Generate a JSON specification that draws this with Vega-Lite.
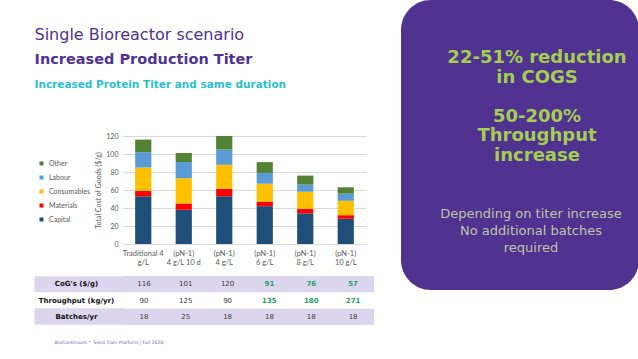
{
  "$schema": "https://vega.github.io/schema/vega-lite/v6.json",
  "background": "white",
  "padding": {"left": 25, "top": 0, "right": 0, "bottom": 0},
  "config": {"view": {"stroke": null}, "font": "DejaVu Sans"},
  "title": {"text": "BioContinuum™ Seed Train Platform | Fall 2020", "orient": "bottom", "anchor": "start", "dx": 29, "fontSize": 4.6, "fontWeight": "normal", "color": "#7a6aa8", "offset": 15, "font": "DejaVu Sans"},
  "datasets": {
    "titles": [
      {"title": "Single Bioreactor scenario"},
      {"title": "Increased Production Titer"},
      {"title": "Increased Protein Titer and same duration"}
    ],
    "costs": [
      {"scenario": "Traditional 4|g/L", "component": "Capital", "cost": 53, "rank": 1},
      {"scenario": "Traditional 4|g/L", "component": "Materials", "cost": 6, "rank": 2},
      {"scenario": "Traditional 4|g/L", "component": "Consumables", "cost": 26, "rank": 3},
      {"scenario": "Traditional 4|g/L", "component": "Labour", "cost": 17, "rank": 4},
      {"scenario": "Traditional 4|g/L", "component": "Other", "cost": 14, "rank": 5},
      {"scenario": "(pN-1)|4 g/L 10 d", "component": "Capital", "cost": 38, "rank": 1},
      {"scenario": "(pN-1)|4 g/L 10 d", "component": "Materials", "cost": 7, "rank": 2},
      {"scenario": "(pN-1)|4 g/L 10 d", "component": "Consumables", "cost": 28, "rank": 3},
      {"scenario": "(pN-1)|4 g/L 10 d", "component": "Labour", "cost": 18, "rank": 4},
      {"scenario": "(pN-1)|4 g/L 10 d", "component": "Other", "cost": 10, "rank": 5},
      {"scenario": "(pN-1)|4 g/L", "component": "Capital", "cost": 53, "rank": 1},
      {"scenario": "(pN-1)|4 g/L", "component": "Materials", "cost": 8, "rank": 2},
      {"scenario": "(pN-1)|4 g/L", "component": "Consumables", "cost": 27, "rank": 3},
      {"scenario": "(pN-1)|4 g/L", "component": "Labour", "cost": 17, "rank": 4},
      {"scenario": "(pN-1)|4 g/L", "component": "Other", "cost": 15, "rank": 5},
      {"scenario": "(pN-1)|6 g/L", "component": "Capital", "cost": 42, "rank": 1},
      {"scenario": "(pN-1)|6 g/L", "component": "Materials", "cost": 5, "rank": 2},
      {"scenario": "(pN-1)|6 g/L", "component": "Consumables", "cost": 20, "rank": 3},
      {"scenario": "(pN-1)|6 g/L", "component": "Labour", "cost": 12, "rank": 4},
      {"scenario": "(pN-1)|6 g/L", "component": "Other", "cost": 12, "rank": 5},
      {"scenario": "(pN-1)|8 g/L", "component": "Capital", "cost": 34, "rank": 1},
      {"scenario": "(pN-1)|8 g/L", "component": "Materials", "cost": 5, "rank": 2},
      {"scenario": "(pN-1)|8 g/L", "component": "Consumables", "cost": 19, "rank": 3},
      {"scenario": "(pN-1)|8 g/L", "component": "Labour", "cost": 8, "rank": 4},
      {"scenario": "(pN-1)|8 g/L", "component": "Other", "cost": 10, "rank": 5},
      {"scenario": "(pN-1)|10 g/L", "component": "Capital", "cost": 28, "rank": 1},
      {"scenario": "(pN-1)|10 g/L", "component": "Materials", "cost": 4, "rank": 2},
      {"scenario": "(pN-1)|10 g/L", "component": "Consumables", "cost": 16, "rank": 3},
      {"scenario": "(pN-1)|10 g/L", "component": "Labour", "cost": 8, "rank": 4},
      {"scenario": "(pN-1)|10 g/L", "component": "Other", "cost": 7, "rank": 5}
    ],
    "table": [
      {"metric": "CoG's ($/g)", "scenario": "Traditional 4|g/L", "value": 116},
      {"metric": "CoG's ($/g)", "scenario": "(pN-1)|4 g/L 10 d", "value": 101},
      {"metric": "CoG's ($/g)", "scenario": "(pN-1)|4 g/L", "value": 120},
      {"metric": "CoG's ($/g)", "scenario": "(pN-1)|6 g/L", "value": 91},
      {"metric": "CoG's ($/g)", "scenario": "(pN-1)|8 g/L", "value": 76},
      {"metric": "CoG's ($/g)", "scenario": "(pN-1)|10 g/L", "value": 57},
      {"metric": "Throughput (kg/yr)", "scenario": "Traditional 4|g/L", "value": 90},
      {"metric": "Throughput (kg/yr)", "scenario": "(pN-1)|4 g/L 10 d", "value": 125},
      {"metric": "Throughput (kg/yr)", "scenario": "(pN-1)|4 g/L", "value": 90},
      {"metric": "Throughput (kg/yr)", "scenario": "(pN-1)|6 g/L", "value": 135},
      {"metric": "Throughput (kg/yr)", "scenario": "(pN-1)|8 g/L", "value": 180},
      {"metric": "Throughput (kg/yr)", "scenario": "(pN-1)|10 g/L", "value": 271},
      {"metric": "Batches/yr", "scenario": "Traditional 4|g/L", "value": 18},
      {"metric": "Batches/yr", "scenario": "(pN-1)|4 g/L 10 d", "value": 25},
      {"metric": "Batches/yr", "scenario": "(pN-1)|4 g/L", "value": 18},
      {"metric": "Batches/yr", "scenario": "(pN-1)|6 g/L", "value": 18},
      {"metric": "Batches/yr", "scenario": "(pN-1)|8 g/L", "value": 18},
      {"metric": "Batches/yr", "scenario": "(pN-1)|10 g/L", "value": 18}
    ],
    "heads": [
      {"line": 1, "text": "22-51% reduction"},
      {"line": 2, "text": "in COGS"},
      {"line": 4, "text": "50-200%"},
      {"line": 5, "text": "Throughput"},
      {"line": 6, "text": "increase"}
    ],
    "body": [
      {"line": 9, "text": "Depending on titer increase\nNo additional batches\nrequired"}
    ]
  },
  "columns": 2,
  "spacing": 27,
  "concat": [
    {
      "columns": 1,
      "spacing": 9,
      "resolve": {"legend": {"color": "independent"}, "scale": {"color": "independent"}},
      "concat": [
        {
          "width": 243,
          "height": 123,
          "data": {"name": "titles"},
          "mark": {"type": "text", "text": ""},
          "encoding": {
            "y": {
              "field": "title", "type": "nominal", "sort": null,
              "scale": {"type": "point", "padding": 0, "range": [34, 84]},
              "axis": {
                "title": null, "domain": false, "ticks": false, "grid": false,
                "labelAlign": "left", "labelBaseline": "middle", "labelPadding": 89, "labelLimit": 0,
                "labelFont": "DejaVu Sans",
                "labelFontSize": {"condition": [{"test": "datum.value == 'Single Bioreactor scenario'", "value": 16}, {"test": "datum.value == 'Increased Production Titer'", "value": 14.5}], "value": 10.5},
                "labelFontWeight": {"condition": {"test": "datum.value == 'Single Bioreactor scenario'", "value": "normal"}, "value": "bold"},
                "labelColor": {"condition": {"test": "datum.value == 'Increased Protein Titer and same duration'", "value": "#2dbecd"}, "value": "#503291"}
              }
            }
          }
        },
        {
          "width": 243,
          "height": 108,
          "data": {"name": "costs"},
          "mark": {"type": "bar"},
          "encoding": {
            "x": {
              "field": "scenario", "type": "nominal", "sort": null,
              "scale": {"paddingInner": 0.6, "paddingOuter": 0.3},
              "axis": {"title": null, "labelAngle": 0, "labelExpr": "split(datum.label, '|')", "ticks": false, "domainColor": "#d9d9d9", "labelFont": "Lato", "labelFontSize": 7.5, "labelColor": "#595959", "labelPadding": 5, "labelLineHeight": 9}
            },
            "y": {
              "field": "cost", "type": "quantitative",
              "scale": {"domain": [0, 120]},
              "axis": {"values": [0, 20, 40, 60, 80, 100, 120], "title": "Total Cost of Goods ($/g)", "domain": false, "ticks": false, "gridColor": "#d9d9d9", "labelFont": "Lato", "labelFontSize": 7, "labelColor": "#595959", "labelPadding": 5, "titleFont": "Lato", "titleFontSize": 7, "titleColor": "#595959", "titleFontWeight": "normal", "titlePadding": 4}
            },
            "color": {
              "field": "component", "type": "nominal",
              "scale": {"domain": ["Other", "Labour", "Consumables", "Materials", "Capital"], "range": ["#548235", "#5b9bd5", "#ffc000", "#ff0000", "#1f4e79"]},
              "legend": {"title": " ", "titleFontSize": 8, "titlePadding": 12, "orient": "left", "offset": 0, "symbolType": "square", "symbolSize": 16, "symbolStrokeWidth": 0, "labelFont": "Lato", "labelFontSize": 7, "labelColor": "#595959", "rowPadding": 6, "padding": 4, "labelOffset": 4}
            },
            "order": {"field": "rank", "type": "quantitative"}
          }
        },
        {
          "width": 251,
          "height": 49,
          "layer": [
            {
              "data": {"values": [{"metric": "CoG's ($/g)"}, {"metric": "Batches/yr"}]},
              "mark": {"type": "rect", "color": "#dcd5ee"},
              "encoding": {
                "y": {
                  "field": "metric", "type": "nominal",
                  "scale": {"domain": ["CoG's ($/g)", "Throughput (kg/yr)", "Batches/yr"], "paddingInner": 0, "paddingOuter": 0},
                  "axis": {
                    "title": null, "domain": false, "grid": false,
                    "ticks": true, "tickSize": 89, "tickWidth": 16.4, "tickCap": "butt",
                    "tickColor": {"condition": {"test": "datum.value == 'Throughput (kg/yr)'", "value": "#ffffff"}, "value": "#dcd5ee"},
                    "labelAlign": "center", "labelPadding": -42, "labelFont": "DejaVu Sans", "labelFontSize": 7, "labelFontWeight": "bold", "labelColor": "#111111", "labelLimit": 0
                  }
                }
              }
            },
            {
              "data": {"name": "table"},
              "transform": [{"filter": "!(indexof(['(pN-1)|6 g/L','(pN-1)|8 g/L','(pN-1)|10 g/L'], datum.scenario) >= 0 && datum.metric != 'Batches/yr')"}],
              "mark": {"type": "text", "fontSize": 7, "color": "#404040"},
              "encoding": {
                "x": {"field": "scenario", "type": "nominal", "sort": null, "scale": {"domain": ["Traditional 4|g/L", "(pN-1)|4 g/L 10 d", "(pN-1)|4 g/L", "(pN-1)|6 g/L", "(pN-1)|8 g/L", "(pN-1)|10 g/L"], "paddingInner": 0, "paddingOuter": 0}, "axis": null},
                "y": {"field": "metric", "type": "nominal"},
                "text": {"field": "value"}
              }
            },
            {
              "data": {"name": "table"},
              "transform": [{"filter": "indexof(['(pN-1)|6 g/L','(pN-1)|8 g/L','(pN-1)|10 g/L'], datum.scenario) >= 0 && datum.metric != 'Batches/yr'"}],
              "mark": {"type": "text", "fontSize": 7, "fontWeight": "bold", "color": "#25a06c"},
              "encoding": {
                "x": {"field": "scenario", "type": "nominal", "axis": null},
                "y": {"field": "metric", "type": "nominal"},
                "text": {"field": "value"}
              }
            }
          ]
        }
      ]
    },
    {
      "width": 238,
      "height": 290,
      "view": {"fill": "#503291", "stroke": null, "cornerRadius": 30},
      "layer": [
        {
          "data": {"name": "heads"},
          "mark": {"type": "text", "font": "DejaVu Sans", "fontWeight": "bold", "fontSize": 18, "color": "#a5cd50", "dx": 17},
          "encoding": {
            "y": {"field": "line", "type": "ordinal", "scale": {"type": "point", "domain": [1, 2, 3, 4, 5, 6, 7, 8, 9, 10, 11], "padding": 0, "range": [58, 253]}, "axis": null},
            "text": {"field": "text"}
          }
        },
        {
          "data": {"name": "body"},
          "mark": {"type": "text", "font": "DejaVu Sans", "fontSize": 13, "color": "#c0c3a6", "dx": 11, "lineBreak": "\n", "lineHeight": 17},
          "encoding": {
            "y": {"field": "line", "type": "ordinal", "axis": null},
            "text": {"field": "text"}
          }
        }
      ]
    }
  ]
}
